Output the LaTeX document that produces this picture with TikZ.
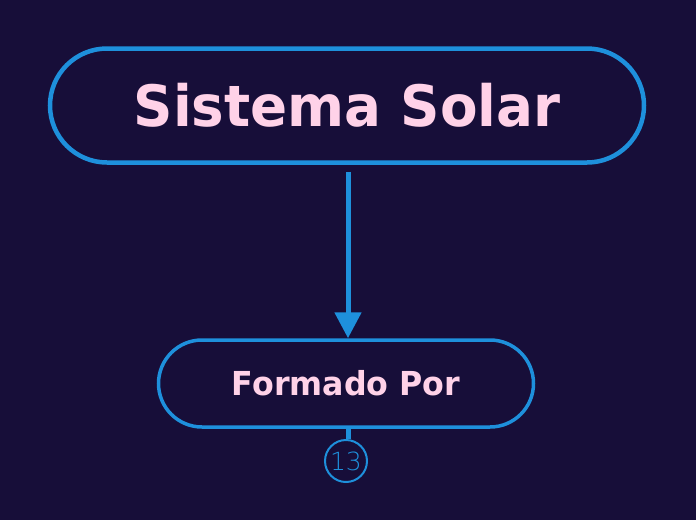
\documentclass[tikz,border=0pt]{standalone}
\usepackage{fontspec}
\setmainfont{DejaVu Sans}
\newfontfamily\labelfont{DejaVu Sans}[FakeStretch=0.96]
\newfontfamily\thinfont{DejaVu Sans ExtraLight}
\usetikzlibrary{arrows.meta, positioning, shapes.misc}
\definecolor{bgnavy}{HTML}{170E39}
\definecolor{edgeblue}{HTML}{1E90DC}
\definecolor{textpink}{HTML}{FFD2E8}
\tikzset{
  titlebox/.style={rounded rectangle, draw=edgeblue, line width=4.5pt,
                   minimum width=594pt, minimum height=114pt, inner sep=0pt,
                   text=textpink, font=\labelfont\fontsize{57}{62}\selectfont\bfseries},
  subbox/.style={rounded rectangle, draw=edgeblue, line width=3.5pt,
                 minimum width=375pt, minimum height=87pt, inner sep=0pt,
                 text=textpink, font=\labelfont\fontsize{33}{36}\selectfont\bfseries},
  badge/.style={circle, draw=edgeblue, line width=2pt, minimum size=42pt,
                inner sep=0pt, text=edgeblue, font=\thinfont\fontsize{25}{27}\selectfont},
  flow/.style={-{Triangle[length=26pt, width=26pt]}, line width=5pt, draw=edgeblue},
}

\begin{document}
\begin{tikzpicture}[x=1pt, y=-1pt]
  \fill[bgnavy] (0,0) rectangle (696,520);
  \useasboundingbox (0,0) rectangle (696,520);
  \node[titlebox] (sistema) at (347,105.5) {\raisebox{-2pt}{Sistema Solar}};
  \node[subbox] (formado) at (346,383.5) {Formado Por};
  \node[badge] (cnt) at (346,461) {13};
  \draw[flow, shorten <=7pt] (sistema.south -| 348,0) -- (formado.north -| 348,0);
  \draw[edgeblue, line width=5pt] (formado.south -| 348,0) -- (cnt.north -| 348,0);
\end{tikzpicture}
\end{document}
